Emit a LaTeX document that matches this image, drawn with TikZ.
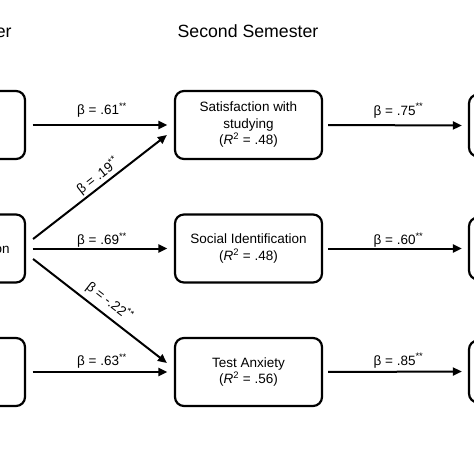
\documentclass[tikz,border=0pt]{standalone}
\usepackage{fontspec}
\setmainfont{Liberation Sans}
\usetikzlibrary{arrows.meta}
\begin{document}
\begin{tikzpicture}[x=1pt,y=-1pt,
  box/.style={draw=black, line width=2.2pt, rounded corners=9pt,
    minimum width=147pt, minimum height=68pt, align=center,
    inner sep=2pt, font=\fontsize{13.5}{16.5}\selectfont},
  rbox/.style={box, minimum height=62pt},
  conn/.style={line width=2pt, -{Triangle[length=9pt,width=8pt]},
    shorten <=6.5pt, shorten >=6.5pt},
  lbl/.style={font=\fontsize{13.5}{16}\selectfont, inner sep=0pt},
  ttl/.style={font=\fontsize{17.7}{20}\selectfont, anchor=base}]
\useasboundingbox (0,0) rectangle (474,474);
\fill[white] (0,0) rectangle (474,474);
% titles
\node[ttl] (t1) at (-46,37) {First Semester};
\node[ttl] (t2) at (248,37) {Second Semester};
% left boxes
\node[box] (l1) at (-48.5,125) {};
\node[box] (l2) at (-48.5,248.5) {Social Identification};
\node[box] (l3) at (-48.5,372) {};
% middle boxes
\node[box] (m1) at (248.5,125) {Satisfaction with\\studying\\(\textit{R}\textsuperscript{2} = .48)};
\node[box] (m2) at (248.5,248.5) {Social Identification\\(\textit{R}\textsuperscript{2} = .48)};
\node[box] (m3) at (248.5,372) {Test Anxiety\\(\textit{R}\textsuperscript{2} = .56)};
% right boxes
\node[rbox] (r1) at (542.5,125.5) {};
\node[rbox] (r2) at (542.5,248.5) {};
\node[rbox] (r3) at (542.5,371.5) {};
% horizontal arrows
\draw[conn] (l1.east) -- node[lbl, midway, yshift=14.5pt, xshift=2pt] {β = .61\textsuperscript{**}} (m1.west);
\draw[conn] (l2.east) -- node[lbl, midway, yshift=8pt, xshift=2pt] {β = .69\textsuperscript{**}} (m2.west);
\draw[conn] (l3.east) -- node[lbl, midway, yshift=11pt, xshift=2pt] {β = .63\textsuperscript{**}} (m3.west);
\draw[conn, shorten <=5pt, shorten >=6pt] (m1.east) -- node[lbl, midway, yshift=14.5pt, xshift=3pt] {β = .75\textsuperscript{**}} (r1.west);
\draw[conn, shorten <=5pt, shorten >=6pt] (m2.east) -- node[lbl, midway, yshift=8pt, xshift=3pt] {β = .60\textsuperscript{**}} (r2.west);
\draw[conn, shorten <=5pt, shorten >=6pt] (m3.east) -- node[lbl, midway, yshift=11pt, xshift=3pt] {β = .85\textsuperscript{**}} (r3.west);
% diagonal arrows
\draw[conn, shorten <=0pt, shorten >=0pt] ([xshift=7pt,yshift=9.5pt]l2.east) -- node[lbl, pos=0.53, sloped, above=1.5pt] {β = .19\textsuperscript{**}} ([xshift=-7pt,yshift=-10pt]m1.west);
\draw[conn, shorten <=0pt, shorten >=0pt] ([xshift=7pt,yshift=-10.5pt]l2.east) -- node[lbl, pos=0.51, sloped, above=5pt] {β = -.22\textsuperscript{**}} ([xshift=-7pt,yshift=9pt]m3.west);
\end{tikzpicture}
\end{document}
